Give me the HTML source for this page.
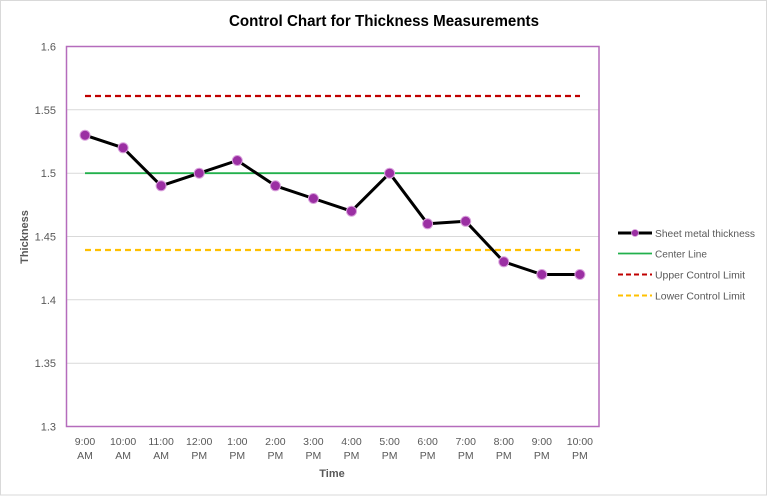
<!DOCTYPE html>
<html><head><meta charset="utf-8"><style>
html,body{margin:0;padding:0;background:#fff;}
svg{display:block;}
text{font-family:"Liberation Sans",sans-serif;}
</style></head><body>
<svg width="768" height="496" viewBox="0 0 768 496" xmlns="http://www.w3.org/2000/svg">
<rect x="0" y="0" width="768" height="496" fill="#fff"/>
<rect x="0.5" y="0.5" width="766" height="494.5" fill="none" stroke="#d9d9d9" stroke-width="1"/>
<text x="384" y="26" text-anchor="middle" font-size="16" font-weight="bold" fill="#000" textLength="310" lengthAdjust="spacingAndGlyphs">Control Chart for Thickness Measurements</text>
<g stroke="#d9d9d9" stroke-width="1">
<line x1="66" y1="109.8" x2="599" y2="109.8"/>
<line x1="66" y1="173.2" x2="599" y2="173.2"/>
<line x1="66" y1="236.5" x2="599" y2="236.5"/>
<line x1="66" y1="299.8" x2="599" y2="299.8"/>
<line x1="66" y1="363.2" x2="599" y2="363.2"/>
<line x1="66" y1="426.5" x2="599" y2="426.5"/>
</g>
<rect x="66.5" y="46.5" width="532.5" height="380" fill="none" stroke="#b56cbc" stroke-width="1.5"/>
<g font-size="11" fill="#595959" text-anchor="end">
<text x="56" y="50.5">1.6</text>
<text x="56" y="113.8">1.55</text>
<text x="56" y="177.2">1.5</text>
<text x="56" y="240.5">1.45</text>
<text x="56" y="303.8">1.4</text>
<text x="56" y="367.2">1.35</text>
<text x="56" y="430.5">1.3</text>
</g>
<text transform="translate(28,237) rotate(-90)" text-anchor="middle" font-size="11" font-weight="bold" fill="#595959">Thickness</text>
<g font-size="10.5" fill="#595959" text-anchor="middle">
<text x="85" y="445">9:00</text><text x="85" y="459">AM</text>
<text x="123.1" y="445">10:00</text><text x="123.1" y="459">AM</text>
<text x="161.1" y="445">11:00</text><text x="161.1" y="459">AM</text>
<text x="199.2" y="445">12:00</text><text x="199.2" y="459">PM</text>
<text x="237.3" y="445">1:00</text><text x="237.3" y="459">PM</text>
<text x="275.4" y="445">2:00</text><text x="275.4" y="459">PM</text>
<text x="313.4" y="445">3:00</text><text x="313.4" y="459">PM</text>
<text x="351.5" y="445">4:00</text><text x="351.5" y="459">PM</text>
<text x="389.6" y="445">5:00</text><text x="389.6" y="459">PM</text>
<text x="427.6" y="445">6:00</text><text x="427.6" y="459">PM</text>
<text x="465.7" y="445">7:00</text><text x="465.7" y="459">PM</text>
<text x="503.8" y="445">8:00</text><text x="503.8" y="459">PM</text>
<text x="541.8" y="445">9:00</text><text x="541.8" y="459">PM</text>
<text x="579.9" y="445">10:00</text><text x="579.9" y="459">PM</text>
</g>
<text x="332" y="477" text-anchor="middle" font-size="11" font-weight="bold" fill="#595959">Time</text>
<line x1="85" y1="96" x2="580" y2="96" stroke="#c00000" stroke-width="2.2" stroke-dasharray="6,4"/>
<line x1="85" y1="173.2" x2="580" y2="173.2" stroke="#22b04c" stroke-width="1.8"/>
<line x1="85" y1="250" x2="580" y2="250" stroke="#ffc000" stroke-width="2.2" stroke-dasharray="6,4"/>
<polyline fill="none" stroke="#000" stroke-width="3" stroke-linejoin="round" points="85,135.2 123.1,147.8 161.1,185.8 199.2,173.2 237.3,160.5 275.4,185.8 313.4,198.5 351.5,211.2 389.6,173.2 427.6,223.8 465.7,221.3 503.8,261.8 541.8,274.5 579.9,274.5"/>
<g fill="#9b2fa3" stroke="#d9a0dc" stroke-width="1">
<circle cx="85" cy="135.2" r="5"/><circle cx="123.1" cy="147.8" r="5"/><circle cx="161.1" cy="185.8" r="5"/><circle cx="199.2" cy="173.2" r="5"/><circle cx="237.3" cy="160.5" r="5"/><circle cx="275.4" cy="185.8" r="5"/><circle cx="313.4" cy="198.5" r="5"/><circle cx="351.5" cy="211.2" r="5"/><circle cx="389.6" cy="173.2" r="5"/><circle cx="427.6" cy="223.8" r="5"/><circle cx="465.7" cy="221.3" r="5"/><circle cx="503.8" cy="261.8" r="5"/><circle cx="541.8" cy="274.5" r="5"/><circle cx="579.9" cy="274.5" r="5"/>
</g>
<g font-size="10.5" fill="#595959">
<line x1="618" y1="233" x2="652" y2="233" stroke="#000" stroke-width="3"/>
<circle cx="635" cy="233" r="3.5" fill="#9b2fa3" stroke="#d9a0dc" stroke-width="0.8"/>
<text x="655" y="237" textLength="100" lengthAdjust="spacingAndGlyphs">Sheet metal thickness</text>
<line x1="618" y1="253.5" x2="652" y2="253.5" stroke="#22b04c" stroke-width="1.8"/>
<text x="655" y="257.5" textLength="52" lengthAdjust="spacingAndGlyphs">Center Line</text>
<line x1="618" y1="274.5" x2="652" y2="274.5" stroke="#c00000" stroke-width="2" stroke-dasharray="5,3"/>
<text x="655" y="278.5" textLength="90" lengthAdjust="spacingAndGlyphs">Upper Control Limit</text>
<line x1="618" y1="295.5" x2="652" y2="295.5" stroke="#ffc000" stroke-width="2" stroke-dasharray="5,3"/>
<text x="655" y="299.5" textLength="90" lengthAdjust="spacingAndGlyphs">Lower Control Limit</text>
</g>
</svg>
</body></html>
